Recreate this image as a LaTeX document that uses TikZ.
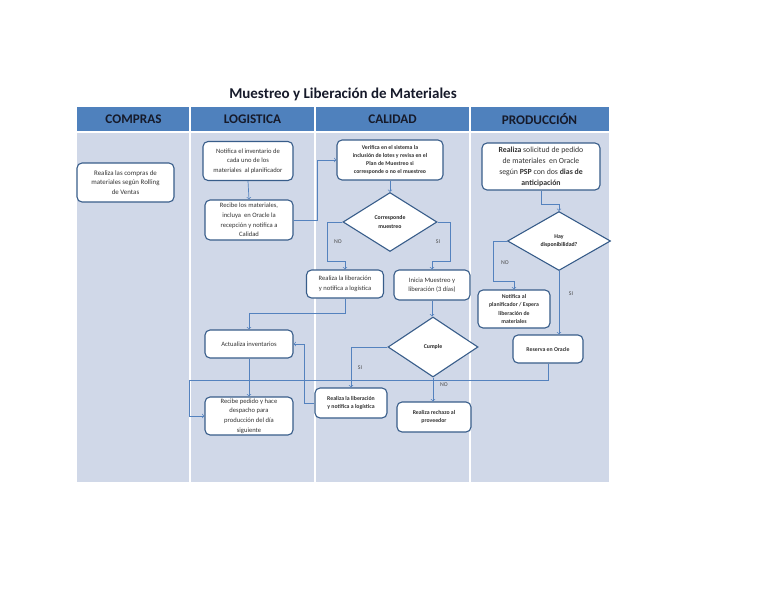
\documentclass[tikz,border=0pt]{standalone}
\usepackage{fontspec}
\setmainfont{Carlito}
\usepackage{tikz}
\usetikzlibrary{positioning}
\usetikzlibrary{arrows}
\usetikzlibrary{shapes.geometric}
\usetikzlibrary{calc}

\definecolor{hdrblue}{RGB}{79,129,189}
\definecolor{lanebg}{RGB}{208,216,232}
\definecolor{boxblue}{RGB}{56,93,138}
\definecolor{lineblue}{RGB}{84,130,190}
\definecolor{hdrtext}{RGB}{22,26,42}

\begin{document}
\begin{tikzpicture}[x=1pt, y=-1pt,
  box/.style={draw=boxblue, line width=1.1pt, rounded corners=5pt, fill=white, align=center, inner sep=1pt, text=black!80},
  dec/.style={diamond, draw=boxblue, line width=1.1pt, fill=white, align=center, inner sep=0pt, text=black!85},
  link/.style={draw=lineblue, line width=0.7pt, ->},
  lbl/.style={font=\fontsize{5.8}{6}\selectfont, text=black!70},
  txt/.style={font=\fontsize{6.6}{9.6}\selectfont},
  txtb/.style={font=\fontsize{5.8}{8.2}\selectfont\bfseries},
  hdr/.style={font=\fontsize{13.2}{15}\selectfont\bfseries, text=hdrtext}]
  \useasboundingbox (0,0) rectangle (768,594);

  \fill[hdrblue] (77,107) rectangle (609,132);
  \fill[lanebg] (77,132) rectangle (609,482);
  \foreach \x in {190,315,470}
    \draw[white, line width=1.2pt] (\x,107) -- (\x,482);
  \draw[white, line width=1.2pt] (77,132) -- (609,132);

  \node[font=\fontsize{15}{17}\selectfont\bfseries, text=hdrtext] (title) at (343,94) {Muestreo y Liberación de Materiales};
  \foreach \x/\name [count=\i] in {133.5/COMPRAS, 252.5/LOGISTICA, 392.5/CALIDAD, 539.5/PRODUCCIÓN}
    \node[hdr] (hdr\i) at (\x,119.5) {\name};

  \node[box, font=\fontsize{6.9}{9.6}\selectfont, minimum width=97pt, minimum height=39pt] (compra) at (125.5,182.5) {Realiza las compras de\\materiales según Rolling\\de Ventas};

  \node[box, txt, minimum width=90pt, minimum height=39pt] (notif) at (248,161) {Notifica el inventario de\\cada uno de los\\materiales~ al planificador};
  \node[box, txt, minimum width=88pt, minimum height=40pt] (recibe) at (249,220) {Recibe los materiales,\\incluya~ en Oracle la\\recepción y notifica a\\Calidad};
  \node[box, txt, minimum width=88pt, minimum height=28pt] (actual) at (249,344) {Actualiza inventarios};
  \node[box, txt, minimum width=88pt, minimum height=38pt] (recibep) at (249,416) {Recibe pedido y hace\\despacho para\\producción del día\\siguiente};

  \node[box, txtb, minimum width=106pt, minimum height=40pt] (verif) at (390,160) {Verifica en el sistema la\\inclusión de lotes y revisa en el\\Plan de Muestreo si\\corresponde o no el muestreo};
  \node[dec, txtb, minimum width=94pt, minimum height=59pt] (corr) at (390,222) {Corresponde\\muestreo};
  \node[box, txt, minimum width=77pt, minimum height=28pt] (libera) at (345,284) {Realiza la liberación\\y notifica a logística};
  \node[box, txt, minimum width=76pt, minimum height=30pt] (inicia) at (432,285) {Inicia Muestreo y\\liberación (3 días)};
  \node[dec, txtb, minimum width=90pt, minimum height=60pt] (cumple) at (433,347) {Cumple};
  \node[box, txtb, minimum width=72pt, minimum height=30pt] (libera2) at (351,403) {Realiza la liberación\\y notifica a logística};
  \node[box, txtb, minimum width=74pt, minimum height=30pt] (rechazo) at (434,417) {Realiza rechazo al\\proveedor};

  \node[box, font=\fontsize{7.8}{11}\selectfont, minimum width=118pt, minimum height=47pt] (solic) at (541,166.5) {\textbf{Realiza} solicitud de pedido\\de materiales~ en Oracle\\según \textbf{PSP} con dos \textbf{dias de}\\\textbf{anticipación}};
  \node[dec, txtb, minimum width=103pt, minimum height=59pt] (hay) at (559,241) {Hay\\disponibilidad?};
  \node[box, txtb, minimum width=72pt, minimum height=38pt] (notifp) at (514,309) {Notifica al\\planificador / Espera\\liberación de\\materiales};
  \node[box, txtb, minimum width=70pt, minimum height=28pt] (reserva) at (548,349) {Reserva en Oracle};

  \draw[link] (notif.south) -- (recibe.north);
  \draw[link] (recibe.east) -- ++(24,0) |- (verif.west);
  \draw[link] (verif.south) -- (corr.north);
  \draw[link] (corr.west) -- ++(-15,0) |- ($(libera.north)+(0,-8)$) -- (libera.north);
  \draw[link] (corr.east) -- ++(13,0) |- ($(inicia.north)+(0,-8)$) -- (inicia.north);
  \draw[link] (libera.south) -- ++(0,15) -| (actual.north);
  \draw[link] (inicia.south) -- (inicia.south |- cumple.north);
  \draw[link] (cumple.west) -| (libera2.north);
  \draw[link] (cumple.south) -- (cumple.south |- rechazo.north);
  \draw[link] (libera2.west) -- ++(-10,0) |- (actual.east);
  \draw[link] (actual.south) -- (recibep.north);
  \draw[link] (reserva.south) -- ++(0,17) -| ($(recibep.west)+(-15,0)$) -- (recibep.west);
  \draw[link] (solic.south) -- ++(0,14) -| (hay.north);
  \draw[link] (hay.west) -- ++(-14,0) |- ($(notifp.north)+(0,-8)$) -- (notifp.north);
  \draw[link] (hay.south) -- (hay.south |- reserva.north);

  \node[lbl] (no1) at (338,242) {NO};
  \node[lbl] (si1) at (438,242) {SI};
  \node[lbl] (si2) at (360,368) {SI};
  \node[lbl] (no2) at (444,385) {NO};
  \node[lbl] (no3) at (505,263) {NO};
  \node[lbl] (si3) at (571,294) {SI};
\end{tikzpicture}
\end{document}
